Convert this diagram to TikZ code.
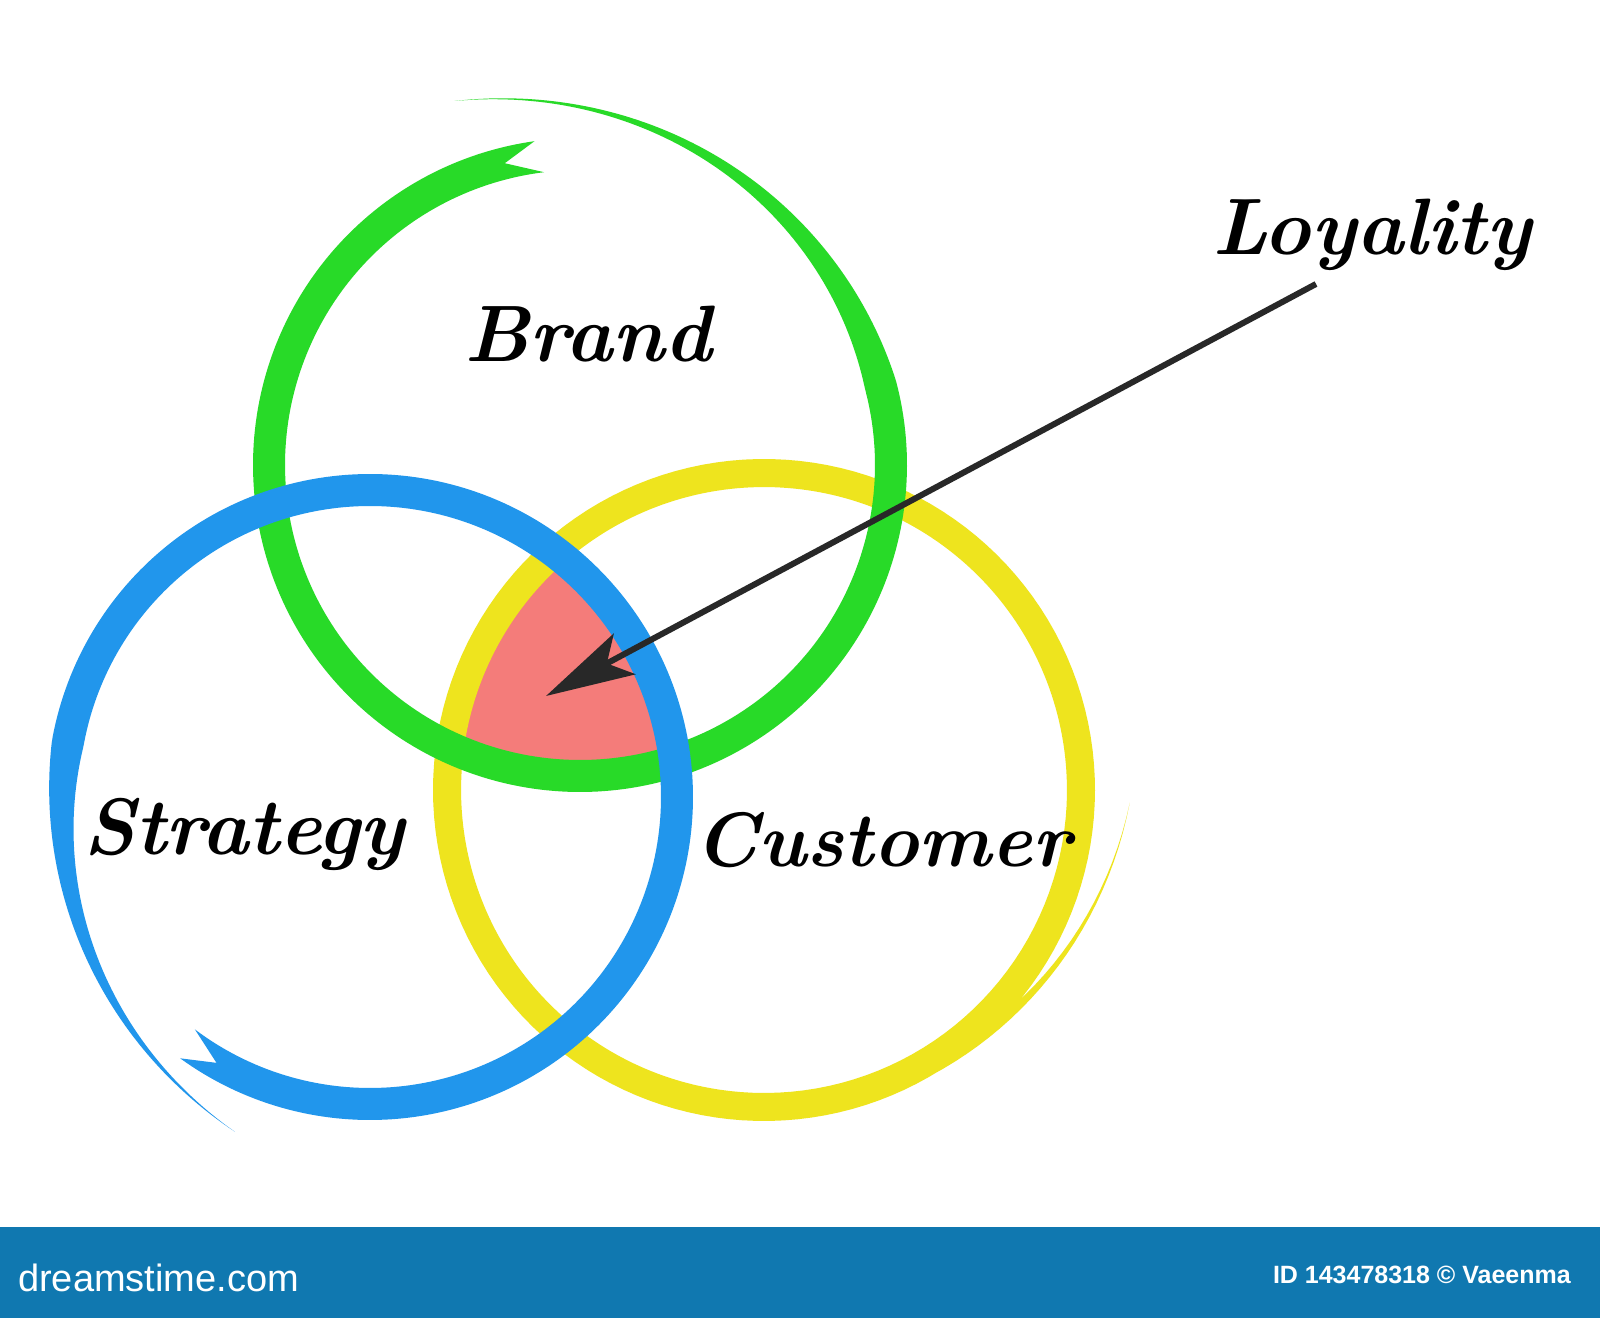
\documentclass[tikz,border=0pt]{standalone}
\usepackage{fontspec}
\newfontfamily\barfont{Liberation Sans}
\usetikzlibrary{arrows.meta}
\definecolor{brandgreen}{RGB}{40,218,40}
\definecolor{stratblue}{RGB}{33,150,236}
\definecolor{custyellow}{RGB}{238,228,30}
\definecolor{loyalred}{RGB}{244,124,122}
\definecolor{arrowgray}{RGB}{40,40,40}
\definecolor{barblue}{RGB}{16,120,176}
% #1 cx, #2 cy, #3 r, #4 start angle, #5 taper start, #6 end angle, #7 end radius, #8 width, #9 colour
\newcommand{\brushring}[9]{%
  \pgfmathsetmacro{\bsA}{#4+1}%
  \pgfmathsetmacro{\bsN}{#4+7}%
  \fill[#9] plot[domain=\bsA:#6, samples=300]
    ({#1+(#3+(#7-#3)*bq(\x,#5,#6)+#8/2*bw(\x,#5,#6))*cos(\x)},
     {#2+(#3+(#7-#3)*bq(\x,#5,#6)+#8/2*bw(\x,#5,#6))*sin(\x)})
  -- plot[domain=#6:#4, samples=300]
    ({#1+(#3+(#7-#3)*bq(\x,#5,#6)-#8/2*bw(\x,#5,#6))*cos(\x)},
     {#2+(#3+(#7-#3)*bq(\x,#5,#6)-#8/2*bw(\x,#5,#6))*sin(\x)})
  -- ({#1+#3*cos(\bsN)},{#2+#3*sin(\bsN)}) -- cycle;}
\tikzset{
  x=1pt, y=1pt,
  declare function={
    bu(\x,\y,\z)=max(0,min(1,(\x-\y)/(\z-\y)));
    bq(\x,\y,\z)=bu(\x,\y,\z)*bu(\x,\y,\z);
    bw(\x,\y,\z)=(1-bu(\x,\y,\z))*(1-0.6*bu(\x,\y,\z));
  },
  ringtext/.style={anchor=base, inner sep=0pt, font=\fontsize{80}{90}\selectfont\bfseries\itshape},
  bartext/.style={inner sep=0pt, text=white},
  pointer/.style={draw=arrowgray, line width=6pt,
    -{Stealth[length=89pt, width=46pt, inset=20pt]}},
}
\begin{document}
\begin{tikzpicture}
\useasboundingbox (0,0) rectangle (1600,1318);
\fill[white] (0,0) rectangle (1600,1318);

% intersection of the three rings
\begin{scope}
  \clip (580,853) circle (311);
  \clip (370,521) circle (307);
  \fill[loyalred] (764,528) circle (317);
\end{scope}

% brush rings
\brushring{764}{528}{317}{-1.5}{625}{718}{366}{28}{custyellow}
\brushring{580}{853}{311}{97}{375}{469}{385}{32}{brandgreen}
\brushring{370}{521}{307}{233}{530}{608}{361}{32}{stratblue}

% texts
\node[ringtext] (brand) at (588,956) {Brand};
\node[ringtext] (strategy) at (244,463) {Strategy};
\node[ringtext, font=\fontsize{77}{90}\selectfont\bfseries\itshape] (customer) at (883,451) {Customer};
\node[ringtext] (loyality) at (1372,1063) {Loyality};

% arrow
\coordinate (arrowstart) at (1316,1034);
\coordinate (arrowtip) at (546,622);
\draw[pointer] (arrowstart) -- (arrowtip);

% bottom bar
\fill[barblue] (0,0) rectangle (1600,91);
\node[bartext, anchor=base west, font=\barfont\fontsize{38}{40}\selectfont] (logo) at (18,27) {dreamstime.com};
\node[bartext, anchor=base east, font=\barfont\bfseries\fontsize{25}{28}\selectfont] (credit) at (1571,35) {ID 143478318 © Vaeenma};
\end{tikzpicture}
\end{document}
